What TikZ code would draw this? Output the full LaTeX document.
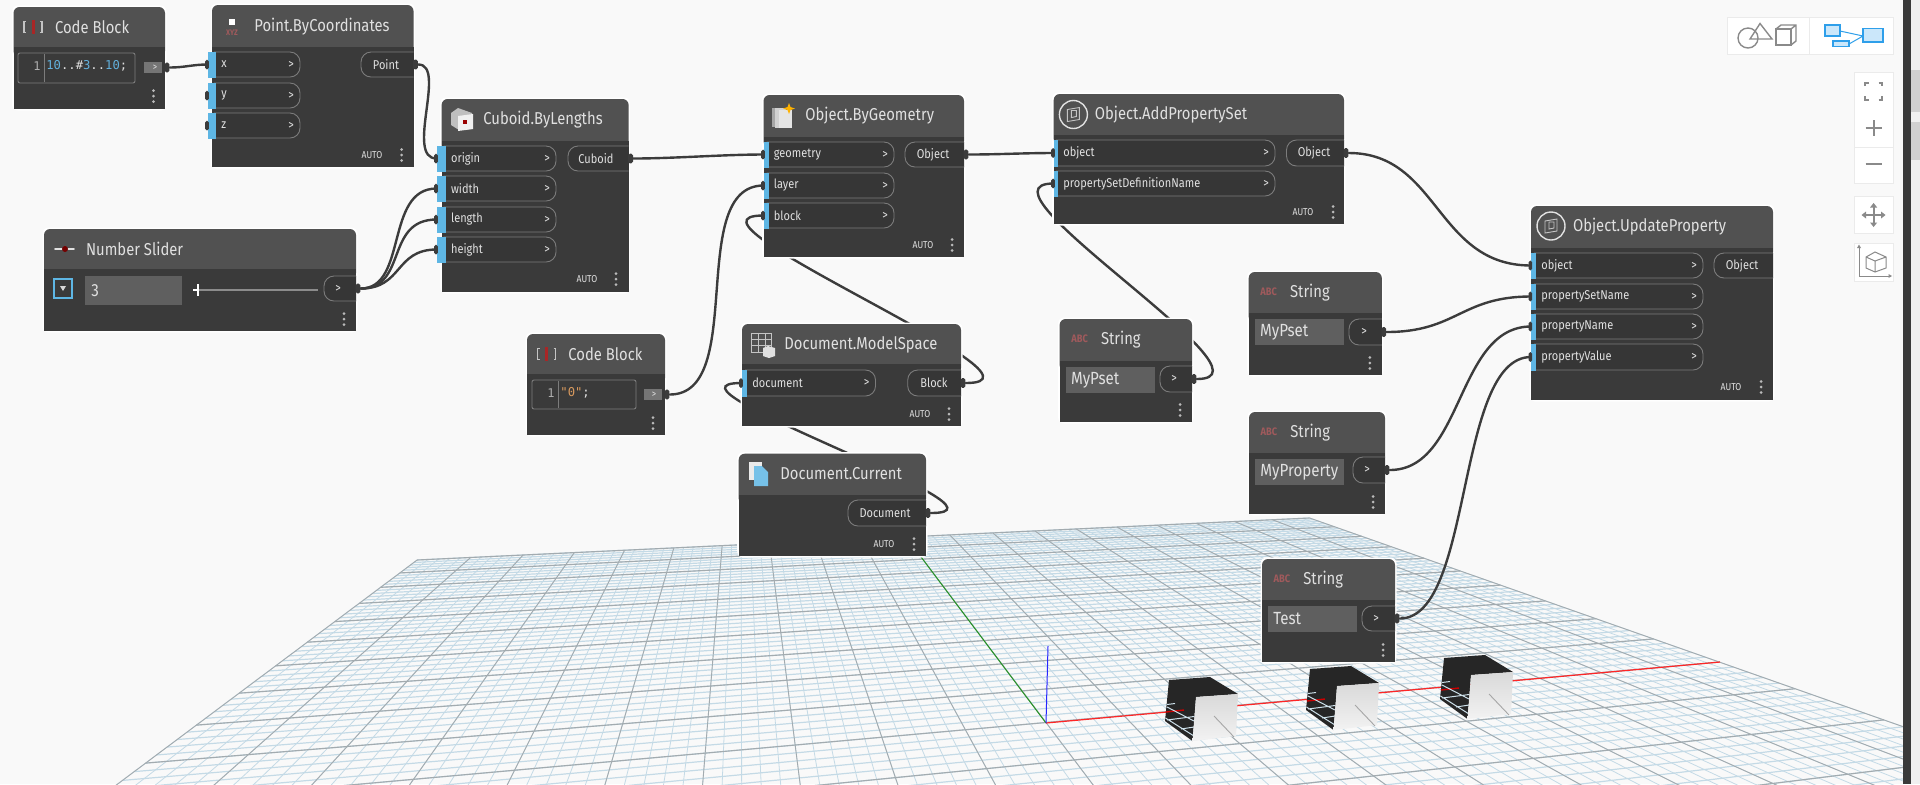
\documentclass[tikz,border=0pt]{standalone}
\usepackage{fontspec}
\setmainfont[FakeStretch=0.86]{Fira Sans}
\newfontfamily\monof{DejaVu Sans Mono}
\usetikzlibrary{calc}
\definecolor{bgc}{HTML}{F9F9F9}
\definecolor{bodyc}{HTML}{3A3A3A}
\definecolor{headc}{HTML}{515151}
\definecolor{pillc}{HTML}{7C7C7C}
\definecolor{pillf}{HTML}{363636}
\definecolor{barc}{HTML}{5EB6E4}
\definecolor{wirec}{HTML}{3C3C3C}
\definecolor{txtc}{HTML}{E0E0E0}
\definecolor{minorc}{HTML}{C4DAE6}
\definecolor{majorc}{HTML}{A3ABAF}
\definecolor{redtxt}{HTML}{A05A5C}
\definecolor{codeblue}{HTML}{62B0DC}
\definecolor{codeorange}{HTML}{D99A5E}
\definecolor{iconc}{HTML}{8A8A8A}
\definecolor{tblue}{HTML}{2E9FEA}
\pgfdeclarelayer{gridlayer}
\pgfdeclarelayer{wirelayer}
\pgfsetlayers{gridlayer,wirelayer,main}
\tikzset{
  wire/.style={draw=wirec,line width=1.2pt,line cap=round},
  nub/.style={fill=wirec,inner sep=0pt,minimum width=2.4pt,minimum height=4.8pt,rounded corners=0.8pt},
  portbar/.style={fill=barc,inner sep=0pt},
  pill/.style={draw=pillc,fill=pillf,line width=0.45pt},
  titletext/.style={text=txtc,inner sep=0pt,anchor=west,font=\fontsize{8.6}{10}\selectfont},
  porttext/.style={text=txtc,inner sep=0pt,font=\fontsize{6.4}{8}\selectfont},
  autotext/.style={text=txtc,inner sep=0pt,font=\fontsize{5}{6}\selectfont},
  valtext/.style={text=txtc,inner sep=0pt,anchor=west,font=\fontsize{8.8}{10}\selectfont},
  abctext/.style={text=redtxt,inner sep=0pt,font=\bfseries\fontsize{5.4}{6}\selectfont},
  valbox/.style={fill=white!19!bodyc},
  button/.style={fill=white,draw=black!8,line width=0.5pt},
  toolicon/.style={draw=iconc,line width=0.7pt},
  tbox/.style={draw=tblue,fill=tblue!25,line width=0.8pt},
  declare function={
    hw(\X,\Y)=1+0.1764*\X+0.847*\Y;
    hx(\X,\Y)=(976.5*\X+627.4*\Y+1046)/hw(\X,\Y);
    hy(\X,\Y)=(56.3*\X+269.3*\Y+722.5)/hw(\X,\Y);
  }
}
% name x1 y1 x2 y2 yheader
\newcommand\dynbox[6]{%
  \fill[white,rounded corners=3pt] (#2-1.5,#3-1.5) rectangle (#4+1.5,#5+1.5);
  \fill[headc,rounded corners=3pt] (#2,#3) rectangle (#4,{#6+10});
  \fill[bodyc] (#2,#6) rectangle (#4,#5);
  \node[inner sep=0pt,minimum width={(#4-#2)*0.5pt},minimum height={(#5-#3)*0.5pt}] (#1) at ({(#2+#4)/2},{(#3+#5)/2}) {};
}
% name barL barR y1 y2 pillRight text
\newcommand\inport[7]{%
  \draw[pill,rounded corners=5pt] (#3-2,#4) -- (#6,#4) -- (#6,#5) -- (#3-2,#5);
  \node[portbar,minimum width={(#3-#2)*0.5pt},minimum height={(#5-#4+1)*0.5pt}] (#1) at ({(#2+#3)/2},{(#4+#5)/2}) {};
  \node[nub,minimum width=1.8pt] at ({#2-1},{(#4+#5)/2}) {};
  \node[porttext,anchor=west] at (#3+5,{(#4+#5)/2}) {#7};
  \node[porttext] at (#6-9,{(#4+#5)/2}) {>};
}
% name x1 y1 x2 y2 text textcentre
\newcommand\outport[7]{%
  \draw[pill,rounded corners=5pt] (#4,#3) -- (#2,#3) -- (#2,#5) -- (#4,#5);
  \node[porttext] at (#7,{(#3+#5)/2}) {#6};
  \node[nub] (#1) at (#4+2,{(#3+#5)/2}) {};
}
\newcommand\threedots[2]{%
  \foreach \d in {-5.5,0,5.5} \fill[white!65!bodyc] (#1,#2+\d) circle (0.75pt);
}
\newcommand\autotag[4]{%
  \node[autotext] at (#1,#2) {AUTO};
  \threedots{#3}{#4}
}
\newcommand\abcstring[7]{% name x1 y1 x2 y2 yh value
  \dynbox{#1}{#2}{#3}{#4}{#5}{#6}
  \node[abctext] at (#2+20,#3+20) {ABC};
  \node[titletext] at (#2+41,#3+21) {String};
  \fill[valbox] (#2+6,#6+6) rectangle (#2+95,#6+32);
  \node[valtext] at (#2+11,#6+19) {#7};
  \threedots{#4-12}{#5-12}
}
\newcommand\blockicon[2]{%
  \draw[white!70!bodyc,line width=0.6pt] (#1-7,#2-5.5) -- (#1-9,#2-5.5) -- (#1-9,#2+5.5) -- (#1-7,#2+5.5);
  \draw[white!70!bodyc,line width=0.6pt] (#1+7,#2-5.5) -- (#1+9,#2-5.5) -- (#1+9,#2+5.5) -- (#1+7,#2+5.5);
  \fill[red!60!black!85!white] (#1-1.5,#2-7) rectangle (#1+1.5,#2+7);
}
\newcommand\ringicon[2]{%
  \draw[white!85!bodyc,line width=0.7pt] (#1,#2) circle (7pt);
  \draw[white!70!bodyc,line width=0.45pt] (#1-6,#2-5) -- (#1+6,#2-7) -- (#1+6,#2+5) -- (#1-6,#2+7) -- cycle;
  \draw[white!70!bodyc,line width=0.45pt] (#1-2,#2-4) -- (#1+3,#2-4) -- (#1+3,#2+2) -- (#1-2,#2+3) -- cycle;
}
\newcommand\cube[2]{%
  \begin{scope}[shift={(#1,#2)}]
    \fill[black!85] (1310,669) -- (1351,666) -- (1379,683) -- (1337,686) -- (1333.5,730) -- (1306,710) -- cycle;
    \draw[red!80!black,line width=0.7pt] (1307,701) -- (1325,699);
    \draw[minorc!85!white,line width=0.5pt]
      (1308,693.5) -- (1316,692.5)
      (1308,696) -- (1335,710)
      (1306.5,707) -- (1335,725)
      (1308,709) -- (1335,705.5)
      (1322,718) -- (1335,716);
    \shade[top color=black!15,bottom color=black!5] (1337,686) -- (1379,683) -- (1377,725) -- (1333.5,730) -- cycle;
    \draw[black!35,line width=0.45pt] (1355,705) -- (1375,726);
  \end{scope}
}
\begin{document}
\begin{tikzpicture}[x=0.5pt,y=-0.5pt]
\useasboundingbox (0,0) rectangle (1920,784);

% ---------- ground grid
\begin{pgfonlayer}{gridlayer}
\fill[bgc] (0,0) rectangle (1920,784);
\begin{scope}
  \clip (0,0) rectangle (1903,784);
  \foreach \i in {-50,...,50}{
    \pgfmathsetmacro\xv{\i/50}
    \draw[minorc,line width=0.4pt] ({hx(\xv,1)},{hy(\xv,1)}) -- ({hx(\xv,-0.5)},{hy(\xv,-0.5)});
  }
  \foreach \i in {-25,...,50}{
    \pgfmathsetmacro\yv{\i/50}
    \draw[minorc,line width=0.6pt] ({hx(-1,\yv)},{hy(-1,\yv)}) -- ({hx(1,\yv)},{hy(1,\yv)});
  }
  \foreach \i in {-10,...,10}{
    \pgfmathsetmacro\xv{\i/10}
    \draw[majorc,line width=0.45pt] ({hx(\xv,1)},{hy(\xv,1)}) -- ({hx(\xv,-0.5)},{hy(\xv,-0.5)});
  }
  \foreach \i in {-5,...,10}{
    \pgfmathsetmacro\yv{\i/10}
    \draw[majorc,line width=0.55pt] ({hx(-1,\yv)},{hy(-1,\yv)}) -- ({hx(1,\yv)},{hy(1,\yv)});
  }
  \draw[green!50!black!85!white,line width=0.5pt] (906,537) -- (1046,723);
  \draw[red!85!white,line width=0.6pt] (1046,723) -- (1720,662);
  \draw[blue!85!white,line width=0.5pt] (1046,723) -- (1048,646);
  \cube{-141}{11}
  \cube{0}{0}
  \cube{134}{-11}
\end{scope}
\end{pgfonlayer}

% ---------- right margin of the window
\fill[bodyc] (1903,0) rectangle (1911,784);
\fill[black!6] (1911,0) rectangle (1920,784);
\fill[black!18] (1911,70) rectangle (1920,112);
\fill[black!18] (1911,122) rectangle (1920,160);

% ---------- nodes
\dynbox{cba}{13.5}{7}{165}{109}{47}
\blockicon{33}{27}
\node[titletext] at (54.7,27) {Code Block};
\draw[pillc,line width=0.45pt,rounded corners=1pt] (18,53) rectangle (135,83);
\draw[pillc,line width=0.3pt] (44,54) -- (44,82);
\node[inner sep=0pt,anchor=east,text=txtc!70!bodyc,font=\monof\fontsize{6}{7}\selectfont] at (41,66) {1};
\node[inner sep=0pt,anchor=west,font=\monof\fontsize{6.1}{7}\selectfont] at (46,66) {\textcolor{codeblue}{10}\textcolor{txtc}{..\#}\textcolor{codeblue}{3}\textcolor{txtc}{..}\textcolor{codeblue}{10}\textcolor{txtc}{;}};
\fill[white!30!bodyc] (144,62) rectangle (162,73);
\node[porttext,font=\fontsize{5}{6}\selectfont] at (155,67.5) {>};
\node[nub] (cbao) at (167,67.5) {};
\threedots{153.5}{96}

\dynbox{pbc}{212}{5}{413.5}{167}{47}
\fill[white] (229,19) rectangle (235,25);
\node[abctext,font=\bfseries\fontsize{4}{4}\selectfont] at (232,33) {XYZ};
\node[titletext] at (254,27) {Point.ByCoordinates};
\inport{ptx}{208}{216}{52}{77}{300}{x}
\inport{pty}{208}{216}{83}{108}{300}{y}
\inport{ptz}{208}{216}{113}{138}{300}{z}
\outport{pto}{361}{52}{413.5}{77}{Point}{386}
\autotag{372}{155}{401.6}{155}

\dynbox{cub}{441.6}{99}{628.6}{292}{141}
\fill[black!25] (451,113) -- (458,108) -- (472,113) -- (472,129) -- (459,130) -- (451,125) -- cycle;
\fill[black!6] (458,116) -- (473,114) -- (473,129) -- (458,131) -- cycle;
\fill[red!60!black] (463,120) rectangle (467,124);
\node[titletext] at (483,120) {Cuboid.ByLengths};
\inport{cuo}{437}{445.7}{146}{171}{556}{origin}
\inport{cuw}{437}{445.7}{176}{201}{556}{width}
\inport{cul}{437}{445.7}{207}{232}{556}{length}
\inport{cuh}{437}{445.7}{237}{262}{556}{height}
\outport{cuout}{568}{146}{628.6}{171}{Cuboid}{596}
\autotag{587}{279}{616}{279}

\dynbox{sld}{44}{229}{356}{331}{269}
\draw[white!85!bodyc,line width=0.9pt,line cap=round] (55,249) -- (74,249);
\fill[red!45!black] (65,249) circle (1.5pt);
\node[titletext] at (85.7,249) {Number Slider};
\draw[barc,line width=0.7pt] (54,279) rectangle (72,298);
\fill[white!80!bodyc] (60,286) -- (66,286) -- (63,291) -- cycle;
\fill[valbox] (85,276) rectangle (182,305);
\node[valtext] at (91,290.5) {3};
\draw[black!45,line width=0.6pt] (193,290) -- (318,290);
\fill[white] (193,289) rectangle (199,291);
\fill[white] (196.5,284) rectangle (199,296);
\outport{sldo}{324}{276}{356}{301}{>}{338}
\threedots{344}{319}

\dynbox{obg}{763.5}{95}{964}{257}{137}
\fill[black!35] (772,108) rectangle (783,127);
\fill[black!18] (775,108) rectangle (786,128);
\fill[black!10] (779,110) rectangle (792,128);
\fill[orange!60!yellow] (789,103) -- (790.5,107) -- (795,108.5) -- (790.5,110) -- (789,114) -- (787.5,110) -- (783,108.5) -- (787.5,107) -- cycle;
\node[titletext] at (805,116) {Object.ByGeometry};
\inport{obgg}{764}{768.5}{142}{167}{894}{geometry}
\inport{obgl}{764}{768.5}{173}{198}{894}{layer}
\inport{obgb}{764}{768.5}{203}{228}{894}{block}
\outport{obgo}{905}{142}{964}{167}{Object}{933}
\autotag{923}{245}{952}{245}

\dynbox{aps}{1053.7}{94}{1344}{224}{135}
\ringicon{1073.4}{114.5}
\node[titletext] at (1094.5,114.7) {Object.AddPropertySet};
\inport{apso}{1054}{1058}{140}{166}{1275}{object}
\inport{apsn}{1054}{1058}{171}{196}{1275}{propertySetDefinitionName}
\outport{apsout}{1286.5}{140}{1344}{166}{Object}{1314}
\autotag{1303}{212}{1333}{212}

\dynbox{cbb}{527}{334}{665}{435}{374}
\blockicon{546.7}{354}
\node[titletext] at (568,353.7) {Code Block};
\draw[pillc,line width=0.45pt,rounded corners=1pt] (532,380) rectangle (636,409);
\draw[pillc,line width=0.3pt] (558,381) -- (558,408);
\node[inner sep=0pt,anchor=east,text=txtc!70!bodyc,font=\monof\fontsize{6}{7}\selectfont] at (555,393) {1};
\node[inner sep=0pt,anchor=west,font=\monof\fontsize{6.1}{7}\selectfont] at (560,393) {\textcolor{codeorange}{"0"}\textcolor{txtc}{;}};
\fill[white!30!bodyc] (644,389) rectangle (662,400);
\node[porttext,font=\fontsize{5}{6}\selectfont] at (654,394.5) {>};
\node[nub] (cbbo) at (667,394.5) {};
\threedots{653}{423}

\dynbox{msp}{742}{324}{961}{426}{364}
\draw[white!70!bodyc,line width=0.5pt] (751,333) rectangle (771,352);
\draw[white!70!bodyc,line width=0.4pt] (751,339) -- (771,339) (751,345) -- (771,345) (758,333) -- (758,352) (765,333) -- (765,352);
\fill[black!12] (763,348) -- (768,346) -- (775,348) -- (775,356) -- (769,358) -- (763,356) -- cycle;
\node[titletext] at (784,344.7) {Document.ModelSpace};
\inport{mspd}{742}{747}{370}{396}{875.5}{document}
\outport{mspo}{907.7}{370}{961}{396}{Block}{934}
\autotag{920}{414}{949}{414}

\dynbox{doc}{738.7}{453.7}{926}{556}{494.7}
\fill[black!8] (749,462) rectangle (762,480);
\fill[barc!85!white] (754,466) -- (762,466) -- (768,472) -- (768,486) -- (754,486) -- cycle;
\node[titletext] at (780,474) {Document.Current};
\outport{doco}{848}{500}{926}{526}{Document}{885}
\autotag{884}{544}{914}{544}

\abcstring{stra}{1059.6}{319}{1192}{422}{361}{MyPset}
\outport{strao}{1160}{366}{1192}{392}{>}{1174}

\abcstring{strb}{1248.7}{272}{1381.8}{375}{313}{MyPset}
\outport{strbo}{1349}{319}{1381.8}{345}{>}{1364}

\abcstring{strc}{1249}{412}{1385}{514}{453}{MyProperty}
\outport{strco}{1353}{457}{1385}{483}{>}{1367}

\abcstring{strd}{1262}{559}{1395}{662}{600}{Test}
\outport{strdo}{1362}{606}{1395}{631}{>}{1376}

\dynbox{upd}{1531}{206}{1773}{400}{248}
\ringicon{1551}{226}
\node[titletext] at (1572.6,227) {Object.UpdateProperty};
\inport{updo}{1531.4}{1536}{253}{278}{1703}{object}
\inport{updn}{1531.4}{1536}{284}{309}{1703}{propertySetName}
\inport{updp}{1531.4}{1536}{314}{339}{1703}{propertyName}
\inport{updv}{1531.4}{1536}{344}{370}{1703}{propertyValue}
\draw[pill,rounded corners=5pt] (1773,253) -- (1714,253) -- (1714,278) -- (1773,278);
\node[porttext] at (1742,266) {Object};
\autotag{1731}{387}{1761}{387}

% ---------- connectors
\begin{pgfonlayer}{wirelayer}
\draw[wire] (cbao.east) .. controls +(15,0) and +(-15,0) .. (ptx.west);
\draw[wire] (pto.east) .. controls +(29,0) and +(-32,0) .. (cuo.west);
\draw[wire] (sldo.east) .. controls +(47,0) and +(-52,0) .. (cuw.west);
\draw[wire] (sldo.east) .. controls +(47,0) and +(-52,0) .. (cul.west);
\draw[wire] (sldo.east) .. controls +(42,0) and +(-42,0) .. (cuh.west);
\draw[wire] (cuout.east) .. controls +(40,0) and +(-40,0) .. (obgg.west);
\draw[wire] (obgo.east) .. controls +(30,0) and +(-30,0) .. (apso.west);
\draw[wire] (cbbo.east) .. controls +(78,0) and +(-78,0) .. (obgl.west);
\draw[wire] (mspo.east) .. controls +(105,0) and +(-105,0) .. (obgb.west);
\draw[wire] (doco.east) .. controls +(100,0) and +(-100,0) .. (mspd.west);
\draw[wire] (strao.east) .. controls +(90,0) and +(-90,0) .. (apsn.west);
\draw[wire] (apsout.east) .. controls +(90,0) and +(-95,0) .. (updo.west);
\draw[wire] (strbo.east) .. controls +(70,0) and +(-70,0) .. (updn.west);
\draw[wire] (strco.east) .. controls +(74,0) and +(-75,0) .. (updp.west);
\draw[wire] (strdo.east) .. controls +(74,0) and +(-76,0) .. (updv.west);
\end{pgfonlayer}

% ---------- tool buttons
\fill[button] (1727,17) rectangle (1893,54);
\draw[black!8,line width=0.5pt] (1809,17) -- (1809,54);
\draw[toolicon] (1748,38) circle (5pt);
\draw[toolicon] (1750,39) -- (1760,23.5) -- (1772,39) -- cycle;
\draw[toolicon] (1776,29) rectangle (1791,45);
\draw[toolicon] (1776,29) -- (1781,25) -- (1796,25) -- (1796,41) -- (1791,45) (1791,29) -- (1796,25);
\draw[tblue,line width=0.5pt] (1840,31) -- (1863,36) (1849,44) -- (1863,36);
\draw[tbox] (1825,25) rectangle (1840,36);
\draw[tbox] (1833,41) rectangle (1849,46.5);
\draw[tbox] (1863,28.5) rectangle (1883,42);

\fill[button] (1854.5,72) rectangle (1893,183);
\draw[black!8,line width=0.5pt] (1855,147) -- (1893,147);
\draw[iconc,line width=1pt] (1865,86) -- (1865,82.5) -- (1868.5,82.5) (1878.5,82.5) -- (1882,82.5) -- (1882,86) (1865,96) -- (1865,99.5) -- (1868.5,99.5) (1878.5,99.5) -- (1882,99.5) -- (1882,96);
\draw[iconc,line width=1pt] (1873.6,120) -- (1873.6,136) (1865.5,128) -- (1881.5,128);
\draw[iconc,line width=1pt] (1865.5,164) -- (1881.5,164);

\fill[button] (1854.5,196) rectangle (1893,233);
\draw[iconc,line width=1pt] (1873.6,205) -- (1873.6,225) (1863.5,215) -- (1883.5,215);
\fill[iconc] (1873.6,203) -- (1870,207.5) -- (1877.2,207.5) -- cycle;
\fill[iconc] (1873.6,227) -- (1870,222.5) -- (1877.2,222.5) -- cycle;
\fill[iconc] (1861.5,215) -- (1866,211.5) -- (1866,218.5) -- cycle;
\fill[iconc] (1885.5,215) -- (1881,211.5) -- (1881,218.5) -- cycle;

\fill[button] (1854.5,243) rectangle (1893,281);
\draw[iconc,line width=0.5pt] (1859,246) -- (1859,276) -- (1891,276);
\fill[iconc] (1859,244.5) -- (1857,248) -- (1861,248) -- cycle;
\fill[iconc] (1892,276) -- (1888.5,274) -- (1888.5,278) -- cycle;
\draw[iconc,line width=0.5pt] (1866,257) -- (1875,252) -- (1886,257) -- (1886,268) -- (1875,272) -- (1866,268) -- cycle (1866,257) -- (1875,261) -- (1886,257) (1875,261) -- (1875,272);
\end{tikzpicture}
\end{document}
